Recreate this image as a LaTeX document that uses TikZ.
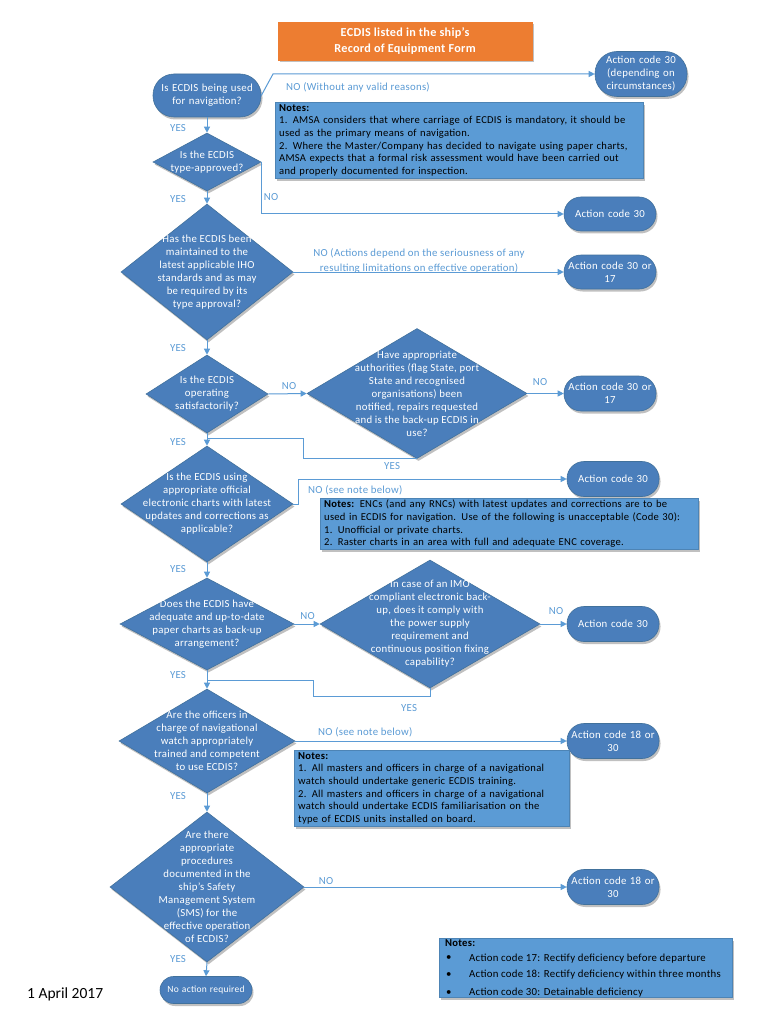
\documentclass[tikz,border=0pt]{standalone}
\usepackage{fontspec}
\setmainfont{Carlito}[LetterSpace=2.5]
\newfontfamily\datefont{Carlito}
\usetikzlibrary{shapes.geometric,shadows,arrows.meta,calc}
\definecolor{nodefill}{HTML}{4A7EBB}
\definecolor{nodeline}{HTML}{41719C}
\definecolor{notefill}{HTML}{5B9BD5}
\definecolor{linecol}{HTML}{5B9BD5}
\definecolor{titlefill}{HTML}{ED7D31}
\tikzset{
  shad/.style={drop shadow={shadow xshift=1.5pt,shadow yshift=-2.5pt,opacity=0.35,fill=black!70}},
  base/.style={fill=nodefill,draw=nodeline,line width=0.6pt,shad},
  dia/.style={base,diamond,inner sep=0pt},
  qtext/.style={text=white,align=center,font=\fontsize{10.8}{13}\selectfont,inner sep=0pt},
  stad/.style={base,rectangle,rounded corners=#1,text=white,align=center,
    font=\fontsize{10.8}{13}\selectfont,inner sep=0pt,minimum width=92pt,text width=91pt},
  stad/.default=17pt,
  arr/.style={draw=linecol,line width=1pt,-{Triangle[length=6pt,width=6pt]}},
  ln/.style={draw=linecol,line width=1pt},
  lab/.style={text=linecol,font=\fontsize{10.8}{15}\selectfont,inner sep=0pt,align=center},
  note/.style={fill=notefill,draw=notefill!85!black,line width=0.4pt,shad,anchor=north west,
    align=left,font=\fontsize{10.6}{12.7}\selectfont,inner xsep=4pt,inner ysep=1.5pt,text=black},
  ntext/.style={anchor=west,inner sep=0pt,font=\fontsize{10.8}{12}\selectfont},
  titlebox/.style={fill=titlefill,draw=titlefill,shad,minimum width=254pt,minimum height=38pt,
    text=white,font=\bfseries\fontsize{12.2}{16}\selectfont,align=center,inner sep=0pt}
}
\begin{document}
\begin{tikzpicture}[x=1pt,y=-1pt]
\path[use as bounding box,fill=white] (0,0) rectangle (768,1024);

% title
\node[titlebox] (t) at (405,41) {ECDIS listed in the ship’s\\Record of Equipment Form};

% main column
\node[stad=21pt,minimum width=108pt,minimum height=43pt,text width=107pt] (q1) at (207,95.5) {Is ECDIS being used\\for navigation?};
\node[dia,minimum width=108pt,minimum height=58pt] (q2) at (207,162) {};
\node[qtext] at (q2) {Is the ECDIS\\type-approved?};
\node[dia,minimum width=172pt,minimum height=136pt] (q3) at (207,272) {};
\node[qtext] at (q3) {Has the ECDIS been\\maintained to the\\latest applicable IHO\\standards and as may\\be required by its\\type approval?};
\node[dia,minimum width=122pt,minimum height=78pt] (q4) at (207,394) {};
\node[qtext] at (q4) {Is the ECDIS\\operating\\satisfactorily?};
\node[dia,minimum width=220pt,minimum height=130pt] (q4b) at (417,393.5) {};
\node[qtext] at (q4b) {Have appropriate\\authorities (flag State, port\\State and recognised\\organisations) been\\notified, repairs requested\\and is the back-up ECDIS in\\use?};
\node[dia,minimum width=172pt,minimum height=116pt] (q5) at (207,504) {};
\node[qtext] at (q5) {Is the ECDIS using\\appropriate official\\electronic charts with latest\\updates and corrections as\\applicable?};
\node[dia,minimum width=174pt,minimum height=92pt] (q6) at (207,624) {};
\node[qtext] at (q6) {Does the ECDIS have\\adequate and up-to-date\\paper charts as back-up\\arrangement?};
\node[dia,minimum width=220pt,minimum height=128pt] (q6b) at (430,624) {};
\node[qtext] at (q6b) {In case of an IMO\\compliant electronic back-\\up, does it comply with\\the power supply\\requirement and\\continuous position fixing\\capability?};
\node[dia,minimum width=176pt,minimum height=104pt] (q7) at (207,741) {};
\node[qtext] at (q7) {Are the officers in\\charge of navigational\\watch appropriately\\trained and competent\\to use ECDIS?};
\node[dia,minimum width=194pt,minimum height=150pt] (q8) at (207,887) {};
\node[qtext] at (q8) {Are there\\appropriate\\procedures\\documented in the\\ship’s Safety\\Management System\\(SMS) for the\\effective operation\\of ECDIS?};
\node[stad=13.5pt,minimum height=27pt,font=\fontsize{9.5}{11}\selectfont] (end) at (206,990) {No action required};

% action nodes
\node[stad=22pt,minimum height=45pt] (a1) at (641,74) {Action code 30\\(depending on\\circumstances)};
\node[stad,minimum height=34pt] (a2) at (610,214) {Action code 30};
\node[stad,minimum height=34pt] (a3) at (610,272) {Action code 30 or\\17};
\node[stad,minimum height=35pt] (a4) at (610,393.5) {Action code 30 or\\17};
\node[stad,minimum height=35pt] (a5) at (613,479) {Action code 30};
\node[stad,minimum height=35pt] (a6) at (613,624) {Action code 30};
\node[stad,minimum height=35pt] (a7) at (613,741) {Action code 18 or\\30};
\node[stad,minimum height=35pt] (a8) at (613,887) {Action code 18 or\\30};

% notes
\node[note,minimum width=365pt,minimum height=76pt,text width=360pt] (n1) at (275,102) {\textbf{Notes:}\\1. AMSA considers that where carriage of ECDIS is mandatory, it should be\\used as the primary means of navigation.\\2. Where the Master/Company has decided to navigate using paper charts,\\AMSA expects that a formal risk assessment would have been carried out\\and properly documented for inspection.};
\node[note,minimum width=375pt,minimum height=51pt,text width=370pt] (n2) at (320,498) {\textbf{Notes:} ENCs (and any RNCs) with latest updates and corrections are to be\\used in ECDIS for navigation. Use of the following is unacceptable (Code 30):\\1. Unofficial or private charts.\\2. Raster charts in an area with full and adequate ENC coverage.};
\node[note,minimum width=272pt,minimum height=76pt,text width=267pt] (n3) at (294,750) {\textbf{Notes:}\\1. All masters and officers in charge of a navigational\\watch should undertake generic ECDIS training.\\2. All masters and officers in charge of a navigational\\watch should undertake ECDIS familiarisation on the\\type of ECDIS units installed on board.};
\node[note,minimum width=293pt,minimum height=59pt] (n4) at (439,938) {};
\node[ntext,font=\bfseries\fontsize{10.6}{12}\selectfont] (n4h) at (445,943.5) {Notes:};
\node[ntext] (b1) at (446,958.5) {•};
\node[ntext] (b2) at (446,975) {•};
\node[ntext] (b3) at (446,993) {•};
\node[ntext] (t1) at (469,958.5) {Action code 17: Rectify deficiency before departure};
\node[ntext] (t2) at (469,975) {Action code 18: Rectify deficiency within three months};
\node[ntext] (t3) at (469,993) {Action code 30: Detainable deficiency};

% date
\node[anchor=west,inner sep=0pt,font=\datefont\fontsize{15.5}{17}\selectfont] (date) at (27,994) {1 April 2017};

% vertical arrows
\draw[arr] (q1.south) -- (q2.north);
\draw[arr] (q2.south) -- (q3.north);
\draw[arr] (q3.south) -- (q4.north);
\draw[arr] (q4.south) -- (q5.north);
\draw[arr] (q5.south) -- (q6.north);
\draw[arr] (q6.south) -- (q7.north);
\draw[arr] (q7.south) -- (q8.north);
\draw[arr] (q8.south) -- (end.north);

% NO arrows
\coordinate (c1) at (273,74);
\draw[arr] (q1.east) -- (c1) -- (a1.west);
\draw[arr] (q2.east) |- (a2.west);
\draw[arr] (q3.east) -- (a3.west);
\draw[arr] (q4.east) -- (q4b.west);
\draw[arr] (q4b.east) -- (a4.west);
\coordinate (c2) at (298,479);
\draw[arr] (q5.east) -| (c2) -- (a5.west);
\draw[arr] (q6.east) -- (q6b.west);
\draw[arr] (q6b.east) -- (a6.west);
\draw[arr] (q7.east) -- (a7.west);
\draw[arr] (q8.east) -- (a8.west);

% YES loops
\coordinate (k1) at (303,438);
\coordinate (j1) at (207,438);
\draw[ln] (q4b.south) -| (k1) -- (j1);
\coordinate (k3) at (313,680);
\coordinate (j2) at (207,680);
\draw[ln] (q6b.south) -- ++(0,8) -| (k3) -- (j2);

% labels
\node[lab] at (178,128) {YES};
\node[lab] at (178,199) {YES};
\node[lab] at (178,348) {YES};
\node[lab] at (178,442) {YES};
\node[lab] at (178,569) {YES};
\node[lab] at (178,675) {YES};
\node[lab] at (178,796) {YES};
\node[lab] at (178,959) {YES};
\node[lab,anchor=west] at (286,87) {NO (Without any valid reasons)};
\node[lab] at (271,197) {NO};
\node[lab] at (419,260.5) {NO (Actions depend on the seriousness of any\\resulting limitations on effective operation)};
\node[lab] at (289,386) {NO};
\node[lab] at (540,382) {NO};
\node[lab] at (392,466) {YES};
\node[lab,anchor=west] at (308,490) {NO (see note below)};
\node[lab] at (307.5,616) {NO};
\node[lab] at (556,611) {NO};
\node[lab] at (409,708) {YES};
\node[lab,anchor=west] at (318,732) {NO (see note below)};
\node[lab] at (326,881) {NO};
\end{tikzpicture}
\end{document}
